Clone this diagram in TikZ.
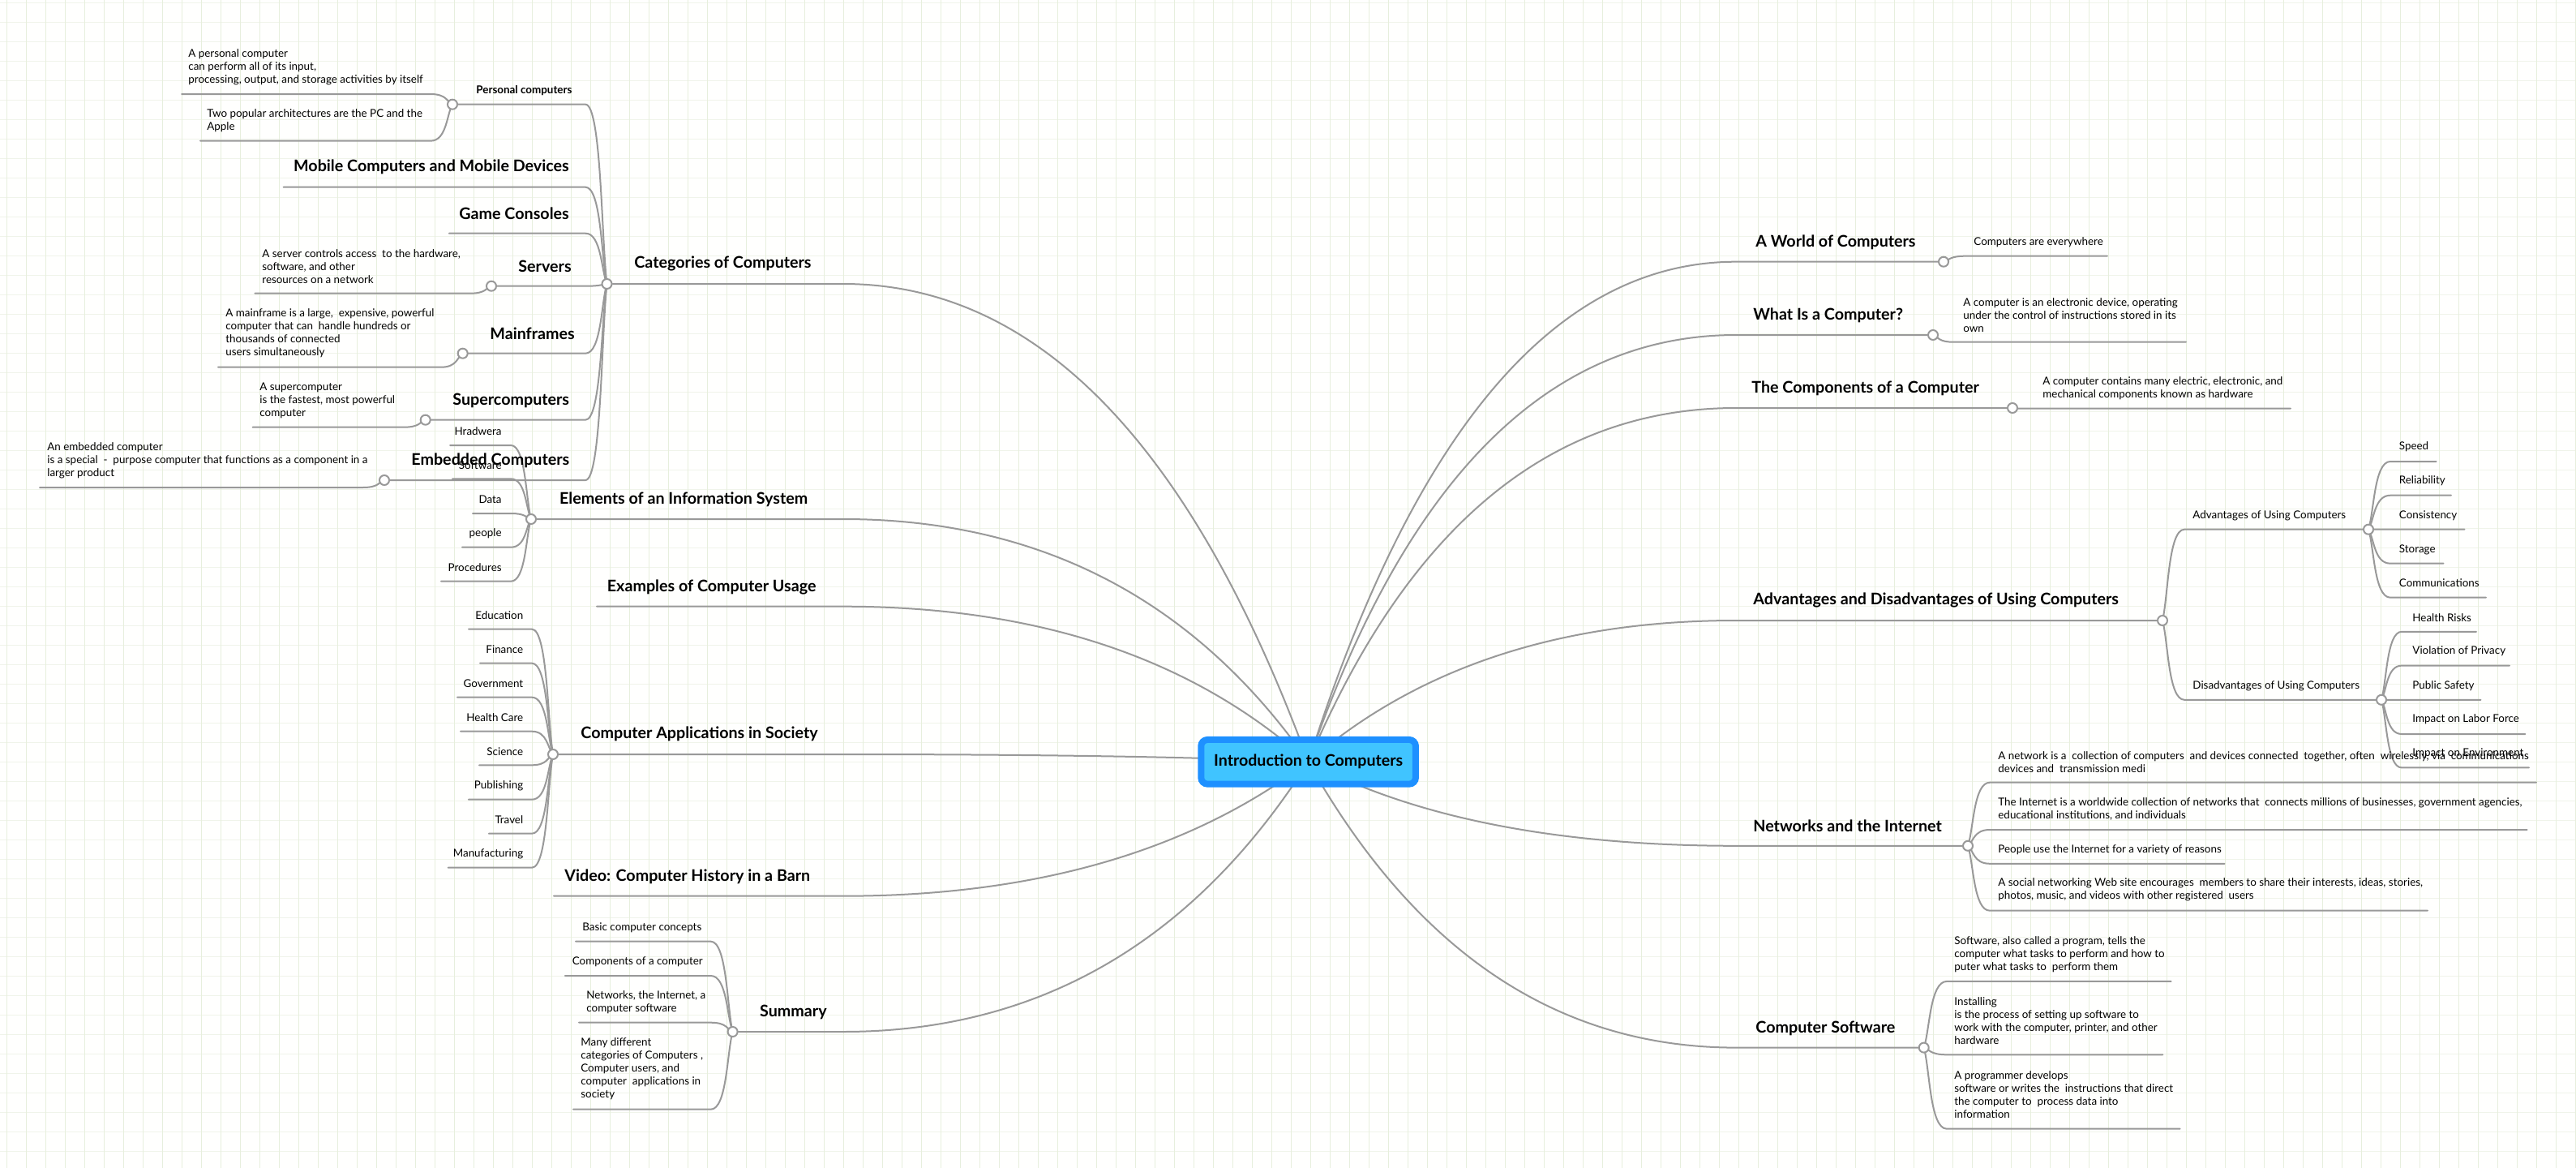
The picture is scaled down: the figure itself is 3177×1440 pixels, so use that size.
\documentclass[tikz,border=0pt]{standalone}
\usepackage{fontspec}
\setmainfont{Lato}
\usetikzlibrary{calc}
\pgfdeclarelayer{bg}
\pgfsetlayers{bg,main}
\definecolor{gridv}{HTML}{E7EFDD}
\definecolor{gridh}{HTML}{F0F4EA}
\definecolor{paper}{HTML}{FFFFFE}
\definecolor{linec}{HTML}{999999}
\definecolor{rootin}{HTML}{40C4FF}
\definecolor{rootout}{HTML}{1E90FF}
\tikzset{
 conn/.style={draw=linec,line width=1pt,line cap=round},
 knot/.style={circle,draw=linec,fill=white,line width=1pt,minimum size=6pt,inner sep=0pt},
 body/.style={font=\fontsize{6.7}{8}\selectfont,align=left,inner sep=0pt,text=black,yshift=-.5pt},
 head/.style={font=\fontsize{9.85}{12}\selectfont\bfseries,inner sep=0pt,anchor=west,text=black,yshift=-1pt},
 smallhead/.style={font=\fontsize{6.7}{8}\selectfont\bfseries,inner sep=0pt,anchor=west,text=black,yshift=-.7pt},
 rootbox/.style={draw=rootout,fill=rootin,line width=4pt,rounded corners=4pt,minimum width=132.35pt,minimum height=27.35pt,inner sep=0pt,font=\fontsize{9.8}{12}\selectfont\bfseries,text=black},
}
\newcommand{\kid}[5]{% from, name, xturn, y, xend
 \coordinate (#2-t) at (#3,#4);
 \coordinate (#2) at (#5,#4);
 \coordinate (#2-a) at ($(#1.center)!.26!(#2-t)$);
 \begin{pgfonlayer}{bg}
 \draw[conn] (#1.center) .. controls (#2-a) and (#2-a |- #2-t) .. (#2-t) -- (#2);
 \end{pgfonlayer}}
\newcommand{\kidto}[3]{% from, target knot, xturn
 \coordinate (#2-x) at (#3,0);
 \coordinate (#2-t) at (#2-x |- #2.center);
 \coordinate (#2-a) at ($(#1.center)!.26!(#2-t)$);
 \begin{pgfonlayer}{bg}
 \draw[conn] (#1.center) .. controls (#2-a) and (#2-a |- #2-t) .. (#2-t) -- (#2.center);
 \end{pgfonlayer}}
\newcommand{\stem}[4]{% target, control x, xturn, y
 \coordinate (#1-c) at (#3,#4);
 \coordinate (#1-q) at (#2,#4);
 \begin{pgfonlayer}{bg}
 \draw[conn] (root.center) .. controls ($(root.center)!.6667!(#1-q)$) and ($(#1-c)!.6667!(#1-q)$) .. (#1-c) -- (#1);
 \end{pgfonlayer}}
\newcommand{\tl}[4]{\node[body,anchor=west] (#1) at (#2,#3) {#4};}
\newcommand{\tr}[4]{\node[body,anchor=east] (#1) at (#2,#3) {#4};}
\newcommand{\hd}[4]{\node[head] (#1) at (#2,#3) {#4};}
\begin{document}
\begin{tikzpicture}[x=.5pt,y=-.5pt]
\useasboundingbox (0,0) rectangle (3177,1440);
\begin{pgfonlayer}{bg}
\fill[paper] (0,0) rectangle (3177,1440);
\foreach \i in {0,...,59} {\draw[gridh,line width=.5pt] (0,{3.7+24*\i}) -- (3177,{3.7+24*\i});}
\foreach \i in {0,...,132} {\draw[gridv,line width=.5pt] ({8.3+24*\i},0) -- ({8.3+24*\i},1440);}
\end{pgfonlayer}

\node[rootbox] (root) at (1613.6,939.3) {Introduction to Computers};

% knots
\node[knot] (kworld) at (2397,322.7) {};
\node[knot] (kwhat) at (2384,413) {};
\node[knot] (kcomp) at (2482,503) {};
\node[knot] (kadv) at (2667,765) {};
\node[knot] (kadvp) at (2921,652.7) {};
\node[knot] (kadvn) at (2937,862.8) {};
\node[knot] (knet) at (2427,1042.8) {};
\node[knot] (ksoft) at (2372.7,1291.6) {};
\node[knot] (kcat) at (748.5,350) {};
\node[knot] (kpc) at (558,128.7) {};
\node[knot] (kserv) at (606,352.7) {};
\node[knot] (kmain) at (570.7,435.7) {};
\node[knot] (ksup) at (524.7,517.7) {};
\node[knot] (kemb) at (474,592) {};
\node[knot] (kele) at (655,640) {};
\node[knot] (kapp) at (682,930) {};
\node[knot] (ksum) at (903.6,1272) {};
\coordinate (eex) at (736,747.7);
\coordinate (evid) at (683,1104.7);

% main stems
\stem{kworld}{1810}{2141}{322.7}
\stem{kwhat}{1795}{2141}{413}
\stem{kcomp}{1798}{2141}{503}
\stem{kadv}{1815}{2141}{765}
\stem{knet}{1810}{2141}{1042.8}
\stem{ksoft}{1812}{2141}{1291.6}
\stem{kcat}{1397}{1040}{350}
\stem{kele}{1405}{1040}{640}
\stem{eex}{1400}{1040}{747.7}
\stem{kapp}{1400}{1040}{930}
\stem{evid}{1395}{1040}{1104.7}
\stem{ksum}{1402}{1040}{1272}

% right side
\hd{hworld}{2165}{296.7}{A World of Computers}
\hd{hwhat}{2162}{386.7}{What Is a Computer?}
\hd{hcomp}{2160}{476.7}{The Components of a Computer}
\hd{hadv}{2162}{738}{Advantages and Disadvantages of Using Computers}
\hd{hnet}{2162}{1016.6}{Networks and the Internet}
\hd{hsoft}{2165}{1265.4}{Computer Software}

\kid{kworld}{eworld}{2424}{315.7}{2599}
\tl{tworld}{2434}{297.7}{Computers are everywhere}
\kid{kwhat}{ewhat}{2409}{421.7}{2696}
\tl{twhat}{2421}{387.7}{A computer is an electronic device, operating\\under the control of instructions stored in its\\own}
\kid{kcomp}{ecomp}{2498}{503.7}{2825}
\tl{tcomp}{2519}{477.7}{A computer contains many electric, electronic, and\\mechanical components known as hardware}

\kidto{kadv}{kadvp}{2694}
\kidto{kadv}{kadvn}{2694}
\tl{tadvp}{2704}{634.7}{Advantages of Using Computers}
\tl{tadvn}{2704}{844.4}{Disadvantages of Using Computers}

\kid{kadvp}{ea1}{2948}{569}{3004.5}
\kid{kadvp}{ea2}{2948}{610.7}{3023}
\kid{kadvp}{ea3}{2948}{652.7}{3039.5}
\kid{kadvp}{ea4}{2948}{694.7}{3013.5}
\kid{kadvp}{ea5}{2948}{736.7}{3066}
\tl{ta1}{2958.5}{550}{Speed}
\tl{ta2}{2958.5}{592}{Reliability}
\tl{ta3}{2958.5}{634.7}{Consistency}
\tl{ta4}{2958.5}{676.7}{Storage}
\tl{ta5}{2958.5}{718}{Communications}

\kid{kadvn}{ed1}{2962}{778.8}{3054}
\kid{kadvn}{ed2}{2962}{820.6}{3095}
\kid{kadvn}{ed3}{2962}{862.8}{3059.5}
\kid{kadvn}{ed4}{2962}{905}{3114.4}
\kid{kadvn}{ed5}{2962}{946.4}{3119}
\tl{td1}{2975}{760.4}{Health Risks}
\tl{td2}{2975}{802}{Violation of Privacy}
\tl{td3}{2975}{844.4}{Public Safety}
\tl{td4}{2975}{886}{Impact on Labor Force}
\tl{td5}{2975}{928}{Impact on Environment}

\kid{knet}{en1}{2454}{964.7}{3128}
\kid{knet}{en2}{2454}{1023}{3116.5}
\kid{knet}{en3}{2454}{1064.8}{2743.5}
\kid{knet}{en4}{2454}{1122.7}{2994}
\tl{tn1}{2464}{938.3}{A network is a\ \ collection of computers\ \ and devices connected\ \ together, often\ \ wirelessly, via\ \ communications\\devices and\ \ transmission medi}
\tl{tn2}{2464}{996.3}{The Internet is a worldwide collection of networks that\ \ connects millions of businesses, government agencies,\\educational institutions, and individuals}
\tl{tn3}{2464}{1046.4}{People use the Internet for a variety of reasons}
\tl{tn4}{2464}{1096.2}{A social networking Web site encourages\ \ members to share their interests, ideas, stories,\\photos, music, and videos with other registered\ \ users}

\kid{ksoft}{es1}{2401}{1209.9}{2677.6}
\kid{ksoft}{es2}{2401}{1300.3}{2667.3}
\kid{ksoft}{es3}{2401}{1391.7}{2688.6}
\tl{ts1}{2410}{1175.5}{Software, also called a program, tells the\\computer what tasks to perform and how to\\puter what tasks to\ \ perform them}
\tl{ts2}{2410}{1257.8}{Installing\\is the process of setting up software to\\work with the computer, printer, and other\\hardware}
\tl{ts3}{2410}{1348.8}{A programmer develops\\software or writes the\ \ instructions that direct\\the computer to\ \ process data into\\information}

% left: categories
\hd{hcat}{782}{323.3}{Categories of Computers}
\kidto{kcat}{kpc}{722}
\node[smallhead] (hpc) at (587,110.7) {Personal computers};
\kid{kpc}{ep1}{531}{116}{224}
\kid{kpc}{ep2}{531}{173.7}{247}
\tl{tp1}{232}{81.7}{A personal computer\\can perform all of its input,\\processing, output, and storage activities by itself}
\tl{tp2}{255}{147.5}{Two popular architectures are the PC and the\\Apple}
\kid{kcat}{emob}{722}{230.7}{349.6}
\hd{hmob}{361.7}{204.3}{Mobile Computers and Mobile Devices}
\kid{kcat}{egam}{722}{287.7}{553.8}
\hd{hgam}{566}{261.7}{Game Consoles}
\kidto{kcat}{kserv}{722}
\hd{hserv}{639}{326.7}{Servers}
\kid{kserv}{eserv}{580}{361.7}{314.4}
\tl{tserv}{323}{327.8}{A server controls access\ \ to the hardware,\\software, and other\\resources on a network}
\kidto{kcat}{kmain}{722}
\hd{hmain}{604}{409.7}{Mainframes}
\kid{kmain}{emain}{544}{452.7}{269}
\tl{tmain}{278}{410.2}{A mainframe is a large,\ \ expensive, powerful\\computer that can\ \ handle hundreds or\\thousands of connected\\users simultaneously}
\kidto{kcat}{ksup}{722}
\hd{hsup}{558}{492}{Supercomputers}
\kid{ksup}{esup}{498}{526.7}{311.7}
\tl{tsup}{320}{492.7}{A supercomputer\\is the fastest, most powerful\\computer}
\kidto{kcat}{kemb}{722}
\kid{kemb}{eemb}{447.6}{601}{49}
\tl{temb}{58}{566.7}{An embedded computer\\is a special\ \ -\ \ purpose computer that functions as a component in a\\larger product}

% elements
\hd{hele}{689.7}{613.7}{Elements of an Information System}
\kid{kele}{ee1}{630}{549}{555}
\kid{kele}{ee2}{630}{590.3}{558}
\kid{kele}{ee3}{630}{633}{583}
\kid{kele}{ee4}{630}{674.7}{570}
\kid{kele}{ee5}{630}{716.7}{544}
\tr{te1}{619}{530.7}{Hradwera}
\tr{te2}{619}{573}{Software}
\tr{te3}{619}{614.3}{Data}
\tr{te4}{619}{656.7}{people}
\tr{te5}{619}{698.7}{Procedures}
\hd{hemb}{507}{566}{Embedded Computers}

\hd{hex}{748.5}{721.7}{Examples of Computer Usage}

% applications
\hd{happ}{716}{903.3}{Computer Applications in Society}
\kid{kapp}{ec1}{656}{775.7}{578}
\kid{kapp}{ec2}{656}{817.7}{592}
\kid{kapp}{ec3}{656}{859.7}{564}
\kid{kapp}{ec4}{656}{901.7}{568}
\kid{kapp}{ec5}{656}{943.3}{591}
\kid{kapp}{ec6}{656}{985.7}{577.8}
\kid{kapp}{ec7}{656}{1027.7}{602.8}
\kid{kapp}{ec8}{656}{1069.7}{552.7}
\tr{tc1}{645.6}{757.3}{Education}
\tr{tc2}{645.6}{799.7}{Finance}
\tr{tc3}{645.6}{841.3}{Government}
\tr{tc4}{645.6}{883.3}{Health Care}
\tr{tc5}{645.6}{925.3}{Science}
\tr{tc6}{645.6}{967.7}{Publishing}
\tr{tc7}{645.6}{1009.3}{Travel}
\tr{tc8}{645.6}{1051.7}{Manufacturing}

\hd{hvid}{696}{1078.7}{Video: Computer History in a Barn}

% summary
\hd{hsum}{936.8}{1246}{Summary}
\kid{ksum}{eu1}{876.6}{1160.7}{710}
\kid{ksum}{eu2}{876.6}{1203}{696.8}
\kid{ksum}{eu3}{876.6}{1260.7}{714}
\kid{ksum}{eu4}{876.6}{1367.7}{707}
\tl{tu1}{718}{1142.7}{Basic computer concepts}
\tl{tu2}{705.5}{1184.7}{Components of a computer}
\tl{tu3}{723}{1234.7}{Networks, the Internet, a\\computer software}
\tl{tu4}{716}{1316.7}{Many different\\categories of Computers ,\\Computer users, and\\computer\ \ applications in\\society}
\end{tikzpicture}
\end{document}
